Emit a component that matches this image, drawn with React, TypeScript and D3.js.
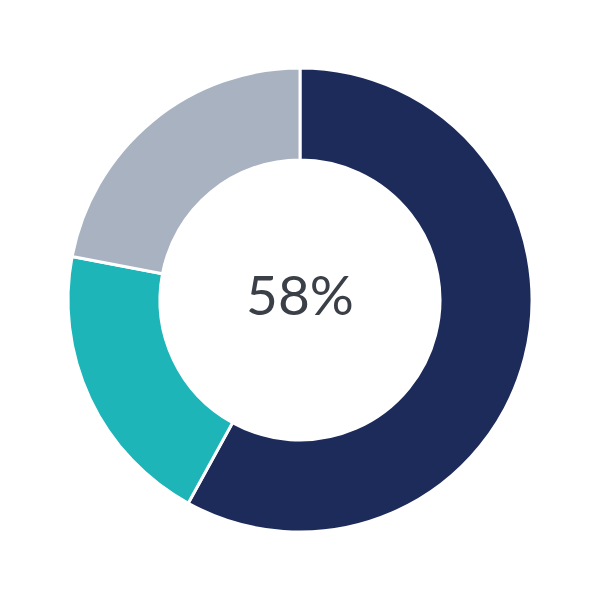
import { useEffect, useRef } from "react";
import * as d3 from "d3";

const categories = ["A", "B", "C"];
const values = [58, 20, 22];
const colors = ["#1c2b5a", "#1db5b8", "#a8b2c1"];
const centerLabel = "58%";

export default function App() {
  const svgRef = useRef<SVGSVGElement>(null);

  useEffect(() => {
    if (!svgRef.current) return;
    d3.select(svgRef.current).selectAll("*").remove();

    const width = 600;
    const height = 600;
    const outerRadius = 232;
    const innerRadius = 140;

    const svg = d3
      .select(svgRef.current)
      .attr("width", width)
      .attr("height", height)
      .append("g")
      .attr("transform", `translate(${width / 2},${height / 2})`);

    const data = categories.map((c, i) => ({ name: c, value: values[i] }));

    const pie = d3
      .pie<{ name: string; value: number }>()
      .value((d) => d.value)
      .sort(null);

    const arc = d3
      .arc<d3.PieArcDatum<{ name: string; value: number }>>()
      .innerRadius(innerRadius)
      .outerRadius(outerRadius);

    svg
      .selectAll("path")
      .data(pie(data))
      .enter()
      .append("path")
      .attr("d", arc)
      .attr("fill", (_, i) => colors[i])
      .attr("stroke", "#fff")
      .attr("stroke-width", 3);

    // Center label
    svg
      .append("text")
      .attr("text-anchor", "middle")
      .attr("y", 15)
      .style("font-family", "Lato, sans-serif")
      .style("font-weight", 400)
      .style("font-size", "55px")
      .style("fill", "#3a3f48")
      .text(centerLabel);
  }, []);

  return (
    <div style={{ position: "absolute", left: 0, top: 0 }}>
      <svg ref={svgRef} style={{ display: "block" }}></svg>
    </div>
  );
}
